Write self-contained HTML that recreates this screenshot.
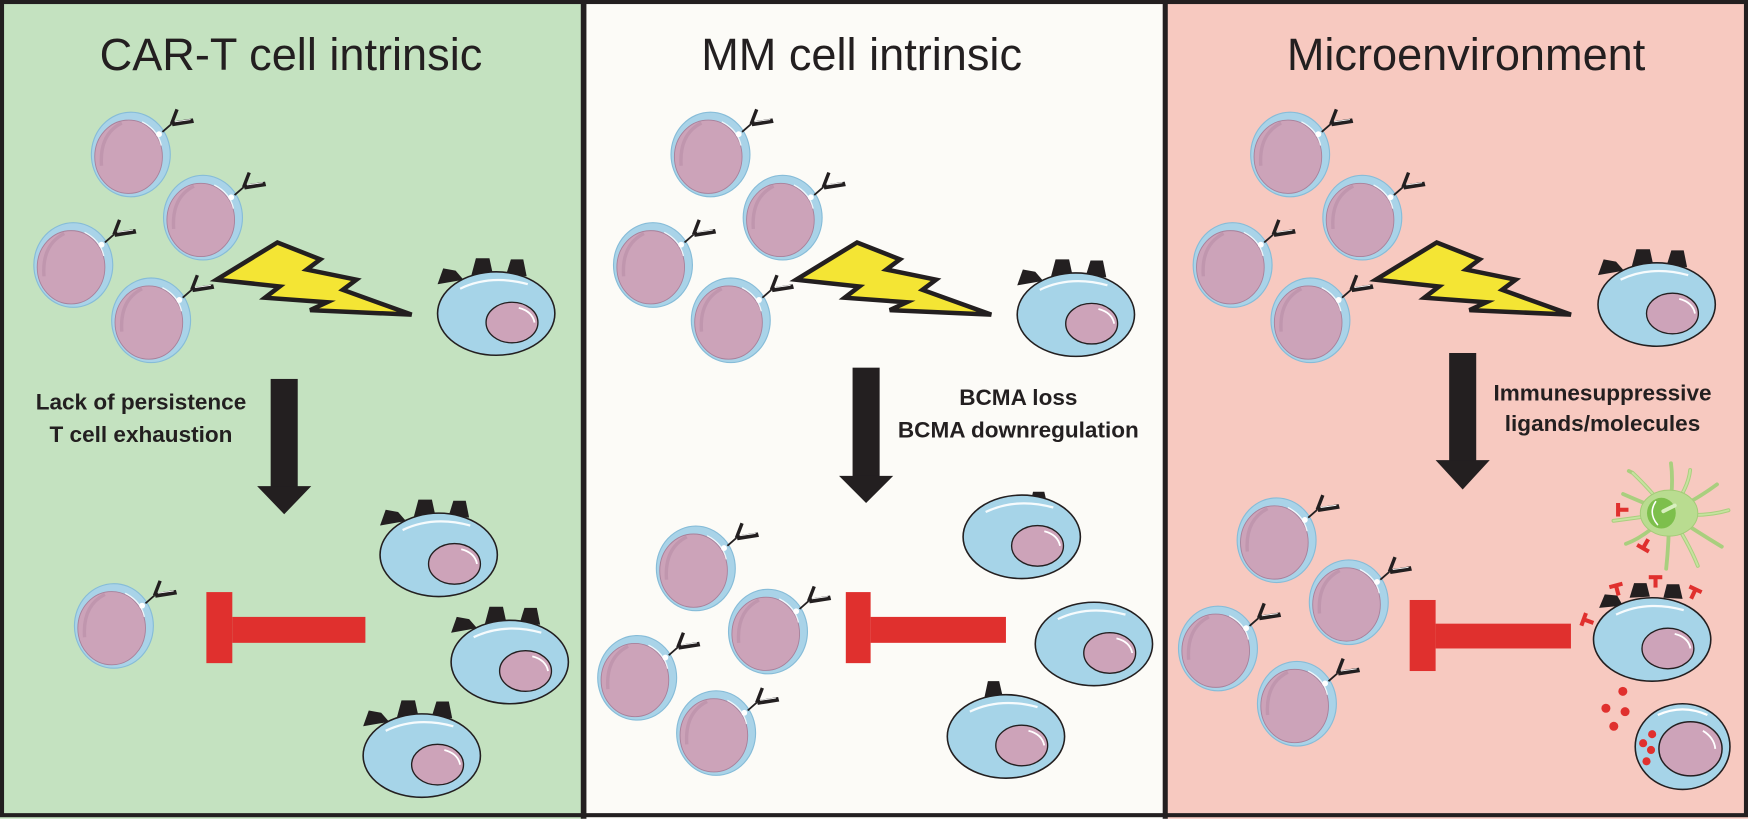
<!DOCTYPE html>
<html><head><meta charset="utf-8"><style>
html,body{margin:0;padding:0;background:#fff;}
svg{display:block;}
.t{font-family:"Liberation Sans",Arial,sans-serif;fill:#231f20;}
</style></head><body>
<svg width="1748" height="819" viewBox="0 0 1550 726.2" preserveAspectRatio="none" xmlns="http://www.w3.org/2000/svg">
<defs>
<g id="tc">
  <ellipse cx="0" cy="0" rx="35" ry="37.5" fill="#a9d3e8" stroke="#86bcd8" stroke-width="1"/>
  <ellipse cx="-2" cy="2" rx="30" ry="32.5" fill="#cca3b9" stroke="#a8809a" stroke-width="0.8"/>
  <path d="M-26,10 Q-28,-18 -8,-28" fill="none" stroke="#b88ea7" stroke-width="3" opacity="0.6"/>
  <path d="M10,-29 Q24,-22 27,-8" fill="none" stroke="#ffffff" stroke-width="1.2" opacity="0.8"/>
  <circle cx="25" cy="-18" r="2.6" fill="#fff"/>
  <line x1="28" y1="-20" x2="36" y2="-27" stroke="#231f20" stroke-width="1.6"/>
  <line x1="36" y1="-27" x2="41" y2="-40" stroke="#231f20" stroke-width="3"/>
  <polygon points="36,-29 55,-32 56,-28 37,-25" fill="#231f20"/>
  <line x1="39" y1="-29" x2="53" y2="-31" stroke="#fff" stroke-width="0.8"/>
</g>
<g id="mmbody">
  <ellipse cx="0" cy="0" rx="52" ry="37" fill="#a6d4e8" stroke="#231f20" stroke-width="1.4"/>
  <path d="M-32,-22 Q-5,-35 28,-26" fill="none" stroke="#fff" stroke-width="2" opacity="0.9"/>
  <ellipse cx="14" cy="8" rx="23" ry="18" fill="#cda3b9" stroke="#231f20" stroke-width="1.2"/>
  <path d="M20,-5 Q32,-2 34,8" fill="none" stroke="#fff" stroke-width="1.6"/>
</g>
<g id="mm3">
  <polygon points="-52,-26 -47,-40 -36,-38 -29,-30" fill="#231f20"/>
  <polygon points="-22,-34 -18,-49 -6,-49 -3,-35" fill="#231f20"/>
  <polygon points="9,-35 13,-48 24,-48 27,-33" fill="#231f20"/>
  <use href="#mmbody"/>
</g>
<g id="rt">
  <rect x="-1.8" y="-9" width="3.6" height="10" fill="#e0302e"/>
  <rect x="-6" y="-10" width="12" height="3.6" fill="#e0302e"/>
</g>
<g id="top">
  <use href="#tc" x="116" y="137"/>
  <use href="#tc" x="180" y="193"/>
  <use href="#tc" x="65" y="235"/>
  <use href="#tc" x="134" y="284"/>
  <polygon points="192,248 246,215 284,230 272,239 316,248 304,257 365,279 275,275 290,268 235,264 248,254" fill="#f4e534" stroke="#231f20" stroke-width="4" stroke-linejoin="miter"/>
</g>
</defs>

<rect x="0" y="0" width="517" height="726" fill="#c4e2c0"/>
<rect x="517" y="0" width="516" height="726" fill="#fcfbf7"/>
<rect x="1033" y="0" width="517" height="726" fill="#f7c9c0"/>

<text class="t" x="258" y="62" font-size="40" text-anchor="middle">CAR-T cell intrinsic</text>
<text class="t" x="764" y="62" font-size="40" text-anchor="middle">MM cell intrinsic</text>
<text class="t" x="1300" y="62" font-size="40" text-anchor="middle">Microenvironment</text>

<use href="#top"/>
<use href="#mm3" x="440" y="278"/>
<use href="#top" x="514"/>
<use href="#mm3" x="954" y="279"/>
<use href="#top" x="1028"/>
<use href="#mm3" x="1469" y="270"/>

<text class="t" x="125" y="363" font-size="20" font-weight="bold" text-anchor="middle">Lack of persistence</text>
<text class="t" x="125" y="392" font-size="20" font-weight="bold" text-anchor="middle">T cell exhaustion</text>
<rect x="240" y="336" width="24" height="96" fill="#231f20"/>
<polygon points="228,431 276,431 252,456" fill="#231f20"/>
<use href="#tc" x="101" y="555"/>
<rect x="183" y="525" width="23" height="63" fill="#e0302e"/>
<rect x="206" y="547" width="118" height="23" fill="#e0302e"/>
<use href="#mm3" x="389" y="492"/>
<use href="#mm3" x="452" y="587"/>
<use href="#mm3" x="374" y="670"/>

<text class="t" x="903" y="359" font-size="20" font-weight="bold" text-anchor="middle">BCMA loss</text>
<text class="t" x="903" y="388" font-size="20" font-weight="bold" text-anchor="middle">BCMA downregulation</text>
<rect x="756" y="326" width="24" height="97" fill="#231f20"/>
<polygon points="744,422 792,422 768,446" fill="#231f20"/>
<use href="#tc" x="617" y="504"/>
<use href="#tc" x="681" y="560"/>
<use href="#tc" x="565" y="601"/>
<use href="#tc" x="635" y="650"/>
<rect x="750" y="525" width="22" height="63" fill="#e0302e"/>
<rect x="772" y="547" width="120" height="23" fill="#e0302e"/>
<polygon points="913,450 916,436 926,436 929,449" fill="#231f20"/>
<use href="#mmbody" x="906" y="476"/>
<use href="#mmbody" x="970" y="571"/>
<polygon points="873,618 876,604 886,604 889,617" fill="#231f20"/>
<use href="#mmbody" x="892" y="653"/>

<text class="t" x="1421" y="355" font-size="20" font-weight="bold" text-anchor="middle">Immunesuppressive</text>
<text class="t" x="1421" y="382" font-size="20" font-weight="bold" text-anchor="middle">ligands/molecules</text>
<rect x="1285" y="313" width="24" height="96" fill="#231f20"/>
<polygon points="1273,408 1321,408 1297,434" fill="#231f20"/>
<use href="#tc" x="1132" y="479"/>
<use href="#tc" x="1196" y="534"/>
<use href="#tc" x="1080" y="575"/>
<use href="#tc" x="1150" y="624"/>
<rect x="1250" y="532" width="23" height="63" fill="#e0302e"/>
<rect x="1273" y="553" width="120" height="22" fill="#e0302e"/>

<g transform="translate(1480,455) scale(0.85)" fill="none" stroke-linecap="round">
  <g stroke="#a9cf7e" stroke-width="4">
    <path d="M0,0 Q-20,-25 -38,-42 L-42,-44"/>
    <path d="M0,0 Q5,-30 2,-52"/>
    <path d="M0,0 Q20,-25 22,-45"/>
    <path d="M0,0 Q30,-15 50,-30"/>
    <path d="M0,0 Q35,5 62,-3"/>
    <path d="M0,0 Q30,20 55,35"/>
    <path d="M0,0 Q20,30 30,55"/>
    <path d="M0,0 Q0,30 -3,58"/>
    <path d="M0,0 Q-25,25 -45,32"/>
    <path d="M0,0 Q-35,5 -58,8"/>
    <path d="M0,0 Q-30,-12 -48,-20"/>
  </g>
  <g stroke="#c6e39f" stroke-width="2">
    <path d="M0,0 Q-20,-25 -38,-42"/>
    <path d="M0,0 Q20,-25 22,-45"/>
    <path d="M0,0 Q35,5 62,-3"/>
    <path d="M0,0 Q20,30 30,55"/>
    <path d="M0,0 Q-35,5 -58,8"/>
  </g>
  <ellipse cx="0" cy="0" rx="30" ry="24" fill="#b9dc90" stroke="#a3cb77" stroke-width="1"/>
  <ellipse cx="-8" cy="0" rx="15" ry="16" fill="#7dbf4c"/>
  <path d="M-14,-12 Q-22,0 -12,12" stroke="#fff" stroke-width="1.6"/>
  <path d="M-6,-2 L6,-8" stroke="#d8efbf" stroke-width="4"/>
</g>
<use href="#rt" transform="translate(1443,452) rotate(-90)"/>
<use href="#rt" transform="translate(1461,479) rotate(-150)"/>

<g transform="translate(1465,567)">
  <polygon points="-47,-28 -42,-40 -31,-39 -26,-30" fill="#231f20"/>
  <polygon points="-20,-37 -16,-50 -5,-50 -2,-38" fill="#231f20"/>
  <polygon points="10,-37 13,-49 24,-49 27,-36" fill="#231f20"/>
  <use href="#mmbody"/>
</g>
<use href="#rt" transform="translate(1412,552) rotate(-70)"/>
<use href="#rt" transform="translate(1435,527) rotate(-15)"/>
<use href="#rt" transform="translate(1468,520) rotate(0)"/>
<use href="#rt" transform="translate(1500,530) rotate(25)"/>

<circle cx="1439" cy="613" r="4" fill="#e0302e"/>
<circle cx="1424" cy="628" r="4" fill="#e0302e"/>
<circle cx="1441" cy="631" r="4" fill="#e0302e"/>
<circle cx="1431" cy="644" r="4" fill="#e0302e"/>

<g transform="translate(1492,662)">
  <ellipse cx="0" cy="0" rx="42" ry="38" fill="#a6d4e8" stroke="#231f20" stroke-width="1.4"/>
  <path d="M-22,-28 Q0,-38 22,-28" fill="none" stroke="#fff" stroke-width="2"/>
  <ellipse cx="7" cy="2" rx="28" ry="24" fill="#cda3b9" stroke="#231f20" stroke-width="1.3"/>
  <path d="M18,-14 Q28,-8 29,2" fill="none" stroke="#fff" stroke-width="1.6"/>
  <circle cx="-27" cy="-11" r="3.6" fill="#e0302e"/>
  <circle cx="-35" cy="-3" r="3.6" fill="#e0302e"/>
  <circle cx="-28" cy="3" r="3.6" fill="#e0302e"/>
  <circle cx="-32" cy="13" r="3.6" fill="#e0302e"/>
</g>

<rect x="1.8" y="1.8" width="1546.4" height="721" fill="none" stroke="#231f20" stroke-width="3.6"/>
<rect x="515" y="0" width="5" height="726" fill="#231f20"/>
<rect x="1031" y="0" width="4.5" height="726" fill="#231f20"/>
</svg>
</body></html>
